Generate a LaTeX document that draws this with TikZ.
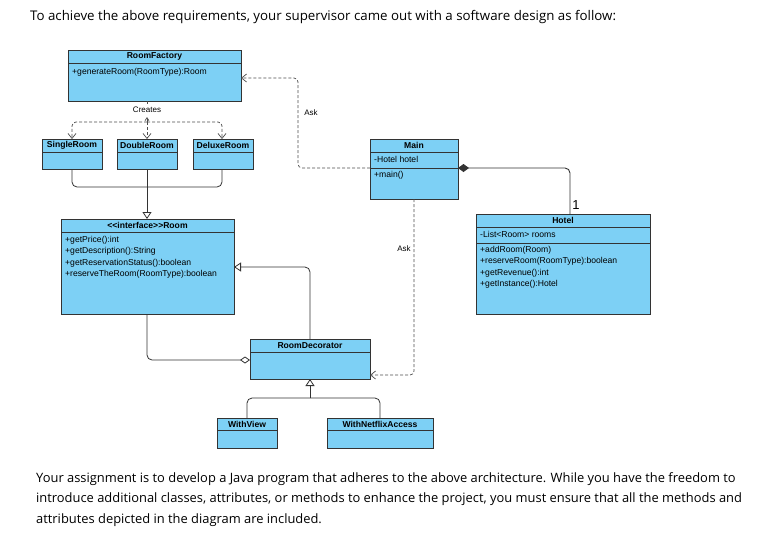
\documentclass[tikz,border=0pt]{standalone}
\usepackage{fontspec}
\setmainfont{Liberation Sans}[Ligatures=NoCommon]
\newfontfamily\para{Open Sans}
\usetikzlibrary{arrows.meta}
\definecolor{cls}{HTML}{7DD0F5}
\begin{document}
\begin{tikzpicture}[x=1pt,y=-1pt,
  box/.style={draw=black!80,fill=cls,line width=0.8pt},
  hd/.style={font=\fontsize{8.6}{9}\selectfont\bfseries,anchor=center,inner sep=0pt},
  tx/.style={font=\fontsize{8.6}{11.5}\selectfont,anchor=north west,align=left,inner sep=0pt},
  lab/.style={font=\fontsize{8}{9}\selectfont,inner sep=1pt},
  dep/.style={densely dashed,draw=black!70,line width=0.7pt,rounded corners=4pt},
  open/.style={-{Straight Barb[length=5pt,width=8pt]}},
  gen/.style={draw=black!80,line width=0.8pt,rounded corners=5pt},
  tri/.style={-{Triangle[open,length=7pt,width=9pt]}}]
\useasboundingbox (0,0) rectangle (775,547);
\node[font=\para\fontsize{13.3}{16}\selectfont,anchor=west,inner sep=0pt] (t1) at (30,17) {To achieve the above requirements, your supervisor came out with a software design as follow:};
\node[font=\para\fontsize{12.9}{20.5}\selectfont,anchor=north west,align=left,inner sep=0pt] (t2) at (36,472) {Your assignment is to develop a Java program that adheres to the above architecture. While you have the freedom to\\introduce additional classes, attributes, or methods to enhance the project, you must ensure that all the methods and\\attributes depicted in the diagram are included.};
% classes
\draw[box] (68,50) rectangle (241,101); \draw[black!80] (68,63)--(241,63);
\node[hd] (rf) at (154.5,56.5) {RoomFactory};
\node[tx] (rfm) at (72,68) {+generateRoom(RoomType):Room};
\foreach \n/\x/\t in {sr/42/SingleRoom,dr/117/DoubleRoom,xr/193/DeluxeRoom}{
 \draw[box] (\x,139) rectangle (\x+60,169); \draw[black!80] (\x,152)--(\x+60,152);
 \node[hd] (\n) at (\x+30,145.5) {\t};}
\draw[box] (61,219) rectangle (234,314); \draw[black!80] (61,232)--(234,232);
\node[hd] (rm) at (147.5,225.5) {<\kern0pt<interface>\kern0pt>Room};
\node[tx] (rmm) at (65,236) {+getPrice():int\\+getDescription():String\\+getReservationStatus():boolean\\+reserveTheRoom(RoomType):boolean};
\draw[box] (250,339) rectangle (370,379); \draw[black!80] (250,352)--(370,352);
\node[hd] (rd) at (310,345.5) {RoomDecorator};
\draw[box] (217,418) rectangle (277,448); \draw[black!80] (217,430)--(277,430);
\node[hd] (wv) at (247,424) {WithView};
\draw[box] (327,418) rectangle (433,448); \draw[black!80] (327,430)--(433,430);
\node[hd] (wn) at (380,424) {WithNetflixAccess};
\draw[box] (370,139) rectangle (458,199); \draw[black!80] (370,152)--(458,152) (370,168)--(458,168);
\node[hd] (mn) at (414,145.5) {Main};
\node[tx] (mna) at (374,156) {-Hotel hotel};
\node[tx] (mnm) at (374,171) {+main()};
\draw[box] (476,214) rectangle (650,314); \draw[black!80] (476,227)--(650,227) (476,243)--(650,243);
\node[hd] (ht) at (563,220.5) {Hotel};
\node[tx] (hta) at (480,231) {-List<Room> rooms};
\node[tx] (htm) at (480,246) {+addRoom(Room)\\+reserveRoom(RoomType):boolean\\+getRevenue():int\\+getInstance():Hotel};
% creates
\draw[dep] (147,101)--(147,104);
\node[lab] (cr) at (147,110) {Creates};
\draw[dep,-{Straight Barb[length=3pt,width=4pt]}] (147,122)--(147,117);
\draw[dep,open] (147,122)--(72,122)--(72,139);
\draw[dep,open] (147,122)--(222,122)--(222,139);
\draw[dep,open] (147,122)--(147,139);
% generalization to Room
\draw[gen] (72,169)--(72,187)--(147,187);
\draw[gen] (222,169)--(222,187)--(147,187);
\draw[gen,tri] (147,169)--(147,219);
\draw[gen,tri] (310,339)--(310,267)--(234,267);
\draw[gen,-{Diamond[open,length=10pt,width=7pt]}] (147,314)--(147,360)--(250,360);
\draw[gen] (247,418)--(247,398)--(310,398);
\draw[gen] (380,418)--(380,398)--(310,398);
\draw[gen,tri] (310,398)--(310,379);
% Ask
\draw[dep,open] (370,168)--(298,168)--(298,78)--(241,78);
\node[lab] (a1) at (311,113) {Ask};
\draw[dep,open] (414,199)--(414,375)--(370,375);
\node[lab] (a2) at (404,249) {Ask};
% composition
\draw[gen,line width=0.9pt,{Diamond[length=11pt,width=8pt]}-] (458,168)--(570,168)--(570,214);
\node[font=\fontsize{13}{14}\selectfont] (one) at (576,205) {1};
\end{tikzpicture}
\end{document}
